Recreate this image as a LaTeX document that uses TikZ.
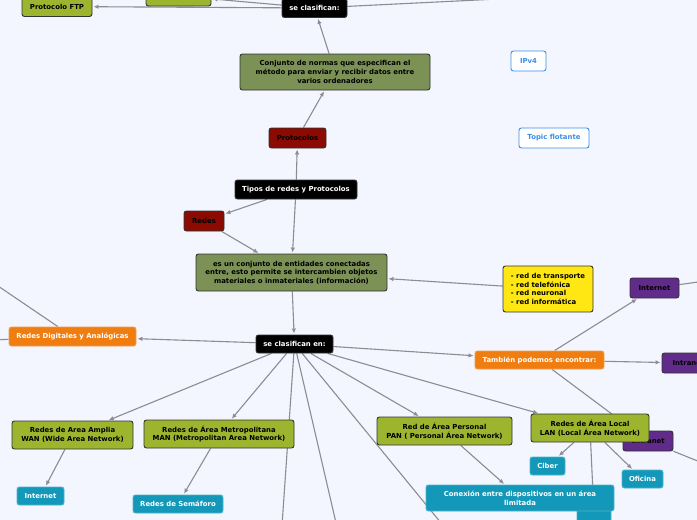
\documentclass[tikz,border=0pt]{standalone}
\usepackage{fontspec}
\setmainfont{DejaVu Sans}
\usepackage{tikz}
\usetikzlibrary{arrows.meta}

\definecolor{fondo}{RGB}{243,246,254}
\definecolor{gris}{RGB}{140,140,146}
\definecolor{oliva}{RGB}{123,145,85}
\definecolor{verde}{RGB}{157,181,46}
\definecolor{rojo}{RGB}{139,10,2}
\definecolor{naranja}{RGB}{240,125,16}
\definecolor{morado}{RGB}{97,43,138}
\definecolor{turquesa}{RGB}{20,152,185}
\definecolor{amarillo}{RGB}{255,231,20}
\definecolor{azul}{RGB}{58,142,230}

\pgfdeclarelayer{lienzo}
\pgfdeclarelayer{aristas}
\pgfsetlayers{lienzo,aristas,main}

\tikzset{
  tema/.style={rounded corners=2.5pt, font=\fontsize{6.9}{8.6}\selectfont\bfseries,
    align=center, inner sep=0pt, line width=0.9pt},
  tam/.style 2 args={minimum width=#1, minimum height=#2},
  negro/.style={tema, fill=black, draw=black!80, text=white},
  olivo/.style={tema, fill=oliva, draw=black!80},
  verdeclaro/.style={tema, fill=verde, draw=black!80},
  rojizo/.style={tema, fill=rojo, draw=black!80},
  lila/.style={tema, fill=morado, draw=black!80},
  anaranjado/.style={tema, fill=naranja, draw=naranja!75!white, text=white},
  celeste/.style={tema, fill=turquesa, draw=turquesa!75!white, text=white},
  lista/.style={tema, fill=amarillo, draw=black!80, align=left},
  flotante/.style={tema, fill=white, draw=azul, text=azul},
  enlace/.style={draw=gris, line width=1.1pt, -{Latex[length=5pt,width=4.5pt]}, shorten >=1pt},
  linea/.style={draw=gris, line width=1.1pt},
}

\begin{document}
\begin{tikzpicture}[x=1pt,y=-1pt]
\useasboundingbox (0,0) rectangle (697,520);
\begin{pgfonlayer}{lienzo}
\fill[fondo] (0,0) rectangle (697,520);
\end{pgfonlayer}

\node[verdeclaro, tam={70pt}{20pt}] (ftp) at (57,6.5) {Protocolo FTP};
\node[verdeclaro, tam={65pt}{20pt}] (verdesup) at (178.5,-4) {};
\node[negro, tam={65pt}{19pt}] (clasif) at (314.5,8) {se clasifican:};
\node[olivo, tam={190pt}{36pt}] (normas) at (335,72)
  {Conjunto de normas que especifican el\\método para enviar y recibir datos entre\\varios ordenadores};
\node[rojizo, tam={57pt}{20pt}] (protocolos) at (297.5,138) {Protocolos};
\node[flotante, tam={35pt}{20pt}] (ipv) at (528.5,61) {IPv4};
\node[flotante, tam={70pt}{20pt}] (topic) at (554,138) {Topic flotante};
\node[negro, tam={122pt}{19pt}] (tipos) at (296,189.5) {Tipos de redes y Protocolos};
\node[rojizo, tam={40pt}{20pt}] (redes) at (204,221) {Redes};
\node[olivo, tam={191pt}{37pt}] (entidades) at (291.5,272.5)
  {es un conjunto de entidades conectadas\\entre, esto permite se intercambien objetos\\materiales o inmateriales (información)};
\node[lista, tam={90pt}{46pt}] (ejemplos) at (548,289)
  {- red de transporte\\- red telefónica\\- red neuronal\\- red informática};
\node[negro, tam={77pt}{18pt}] (clasifen) at (294.5,344) {se clasifican en:};
\node[anaranjado, tam={127pt}{19pt}] (digitales) at (72.5,336.5) {Redes Digitales y Analógicas};
\node[anaranjado, tam={129pt}{18pt}] (tambien) at (539.5,360) {También podemos encontrar:};
\node[lila, tam={49pt}{20pt}] (internet) at (654.5,288) {Internet};
\node[lila, tam={53pt}{20pt}] (intranet) at (688.5,363) {Intranet};
\node[lila, tam={50pt}{20pt}] (extranet) at (648,441) {Extranet};
\node[verdeclaro, tam={121pt}{28pt}] (wan) at (72.5,435) {Redes de Area Amplia\\WAN (Wide Area Network)};
\node[verdeclaro, tam={150pt}{28pt}] (man) at (219,434) {Redes de Área Metropolitana\\MAN (Metropolitan Area Network)};
\node[verdeclaro, tam={135pt}{28pt}] (pan) at (444.5,431) {Red de Área Personal\\PAN ( Personal Área Network)};
\node[verdeclaro, tam={118pt}{28pt}] (lan) at (590,428) {Redes de Área Local\\LAN (Local Área Network)};
\node[celeste, tam={47pt}{18pt}] (inetwan) at (40.5,496) {Internet};
\node[celeste, tam={90pt}{18pt}] (semaforo) at (178,504) {Redes de Semáforo};
\node[celeste, tam={35pt}{18pt}] (ciber) at (547.5,466) {Ciber};
\node[celeste, tam={41pt}{18pt}] (oficina) at (642.5,479) {Oficina};
\node[celeste, tam={34pt}{26pt}] (oculto) at (594,515) {};
\node[celeste, tam={188pt}{26pt}] (conexion) at (520,498) {Conexión entre dispositivos en un área\\limitada};

\coordinate (fueraA) at (600,-6);
\coordinate (fueraB) at (366,-6);
\coordinate (fueraC) at (-30,267);
\coordinate (fueraD) at (-30,341);
\coordinate (fueraE) at (720,279);
\coordinate (fueraF) at (720,470);
\coordinate (fueraG) at (281,540);
\coordinate (fueraH) at (340,540);
\coordinate (fueraI) at (455,540);

\begin{pgfonlayer}{aristas}
\draw[enlace] (clasif) -- (ftp);
\draw[enlace] (clasif) -- (verdesup);
\draw[linea] (clasif) -- (fueraA);
\draw[linea] ([xshift=-2pt]clasif.north east) -- (fueraB);
\draw[enlace] (normas) -- (clasif);
\draw[enlace] (protocolos) -- (normas);
\draw[enlace] (tipos) -- (protocolos);
\draw[enlace] (tipos) -- (redes);
\draw[enlace] (tipos) -- (entidades);
\draw[enlace] (redes) -- (entidades);
\draw[enlace] (ejemplos) -- (entidades);
\draw[enlace] (entidades) -- (clasifen);
\draw[enlace] (clasifen) -- (digitales);
\draw[enlace] (clasifen) -- (tambien);
\draw[enlace] (clasifen) -- (wan);
\draw[enlace] (clasifen) -- (man);
\draw[enlace] (clasifen) -- (pan);
\draw[enlace] (clasifen) -- (lan);
\draw[linea] (clasifen) -- (fueraG);
\draw[linea] (clasifen) -- (fueraH);
\draw[linea] (clasifen) -- (fueraI);
\draw[linea] (digitales) -- (fueraC);
\draw[linea] (digitales) -- (fueraD);
\draw[enlace] (tambien) -- (internet);
\draw[enlace] (tambien) -- (intranet);
\draw[enlace] (tambien) -- (extranet);
\draw[linea] (internet) -- (fueraE);
\draw[linea] (extranet) -- (fueraF);
\draw[enlace] (wan) -- (inetwan);
\draw[enlace] (man) -- (semaforo);
\draw[enlace] (pan) -- (conexion);
\draw[enlace] (lan) -- (ciber);
\draw[enlace] (lan) -- (oficina);
\draw[enlace] (lan) -- (oculto);
\end{pgfonlayer}
\end{tikzpicture}
\end{document}
